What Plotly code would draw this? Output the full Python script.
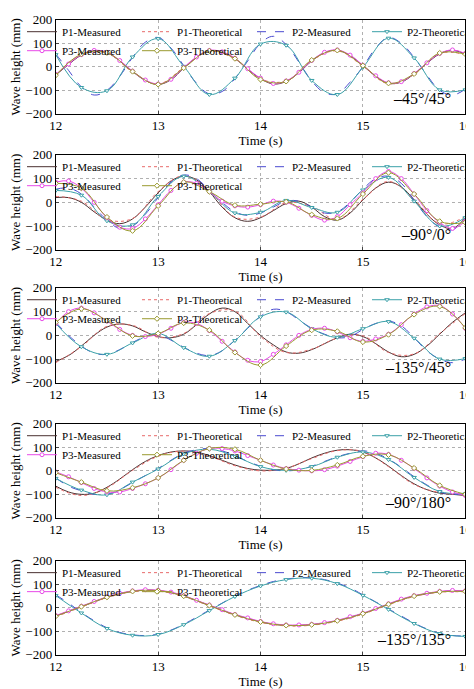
import plotly.graph_objects as go

t_meas = [12 + 0.125 * i for i in range(33)]
t_theo = [12 + 0.25 * i for i in range(17)]

panel_labels = ["\u201345\u00b0/45\u00b0", "\u201390\u00b0/0\u00b0", "\u2013135\u00b0/45\u00b0", "\u201390\u00b0/180\u00b0", "\u2013135\u00b0/135\u00b0"]

# Panel 1 (-45/45)
p1_m_1 = [-35,10,50,68,60,25,-20,-58,-75,-55,-5,40,68,62,35,-10,-50,-73,-62,-25,25,60,70,48,5,-40,-70,-65,-30,15,55,70,55]
p2_m_1 = [55,-15,-85,-120,-100,-40,40,105,125,80,5,-70,-115,-105,-50,25,100,130,95,20,-60,-110,-115,-65,0,80,125,100,40,-35,-100,-120,-95]
p3_m_1 = [-32,12,52,70,62,27,-18,-56,-73,-53,-3,42,70,64,37,-8,-48,-71,-60,-23,27,62,72,50,7,-38,-68,-63,-28,17,57,72,57]
p1_t_1 = [-38,52,58,-22,-73,-3,66,33,-52,-60,27,68,3,-72,-32,57,52]
p2_t_1 = [52,-88,-102,42,120,2,-118,-48,97,92,-58,-118,-2,122,38,-98,-98]
p3_t_1 = [-36,54,60,-20,-75,-5,68,35,-54,-62,29,70,5,-70,-30,59,54]

# Panel 2 (-90/0)
p1_m_2 = [20,20,0,-40,-75,-90,-70,-20,40,90,110,95,45,-20,-65,-80,-65,-35,-5,5,-20,-60,-75,-45,10,60,85,65,10,-50,-95,-110,-65]
p2_m_2 = [55,60,35,-20,-75,-110,-100,-50,20,85,115,100,50,0,-40,-55,-45,-20,5,5,-20,-45,-40,0,55,100,110,80,10,-60,-105,-115,-70]
p3_m_2 = [85,90,60,0,-65,-105,-110,-70,-10,50,85,80,45,5,-15,-20,-10,5,0,-25,-55,-75,-60,-10,40,100,130,100,35,-35,-85,-110,-80]
p1_t_2 = [25,5,-72,-68,45,112,48,-62,-62,-2,-18,-72,12,88,12,-90,-60]
p2_t_2 = [50,30,-78,-95,25,110,45,-45,-42,8,-22,-42,52,105,5,-100,-65]
p3_t_2 = [80,60,-62,-120,-15,85,45,-12,-8,2,-52,-68,35,125,35,-80,-85]

# Panel 3 (-135/45)
p1_m_3 = [-110,-85,-45,0,35,48,40,15,-5,-10,5,45,90,115,100,50,0,-40,-70,-75,-60,-35,-10,5,-5,-35,-70,-90,-80,-45,5,55,95]
p2_m_3 = [55,0,-45,-75,-80,-60,-30,-5,5,-20,-50,-75,-85,-65,-20,30,80,110,100,65,30,5,-10,-5,25,50,60,40,-10,-65,-100,-115,-100]
p3_m_3 = [50,100,115,95,60,25,0,-5,5,30,55,50,20,-25,-70,-105,-110,-80,-40,0,25,30,15,-10,-25,-15,5,45,90,120,125,90,30]
p1_t_3 = [-115,-48,38,42,-8,8,92,102,-5,-72,-58,-12,-2,-72,-78,8,92]
p2_t_3 = [50,-48,-80,-32,8,-52,-88,-22,78,98,28,-8,28,58,-12,-100,-98]
p3_t_3 = [55,112,62,-2,8,52,22,-72,-125,-45,22,17,-28,3,88,122,32]

# Panel 4 (-90/180)
p1_m_4 = [-65,-90,-100,-95,-70,-35,5,40,65,80,85,80,65,45,25,10,3,3,10,30,55,75,88,90,80,55,20,-20,-55,-80,-95,-100,-105]
p2_m_4 = [-30,-65,-85,-100,-100,-80,-50,-20,10,45,75,90,95,85,65,40,20,5,0,5,20,40,60,75,85,75,50,15,-25,-60,-90,-100,-100]
p3_m_4 = [-5,-25,-50,-75,-90,-90,-75,-55,-30,5,45,75,95,95,85,65,45,25,10,3,0,5,20,40,60,75,70,45,10,-30,-65,-90,-105]
p1_t_4 = [-70,-105,-72,2,62,84,62,22,0,12,52,86,82,18,-58,-92,-100]
p2_t_4 = [-32,-82,-102,-48,8,72,92,62,18,2,18,58,80,48,-28,-88,-98]
p3_t_4 = [-8,-48,-85,-72,-30,45,95,92,45,8,2,25,62,68,12,-62,-100]

# Panel 5 (-135/135)
p1_m_5 = [-35,-15,5,25,45,60,70,75,73,65,50,30,10,-10,-30,-45,-60,-70,-75,-75,-72,-65,-55,-40,-25,-5,15,35,50,60,68,72,70]
p2_m_5 = [55,20,-20,-55,-85,-105,-115,-118,-112,-95,-70,-40,-10,20,50,75,95,112,122,128,128,120,105,85,55,25,-5,-35,-65,-90,-108,-118,-120]
p3_m_5 = [-33,-13,7,27,47,62,72,77,75,67,52,32,12,-8,-28,-43,-58,-68,-73,-73,-70,-63,-53,-38,-23,-3,17,37,52,62,70,74,72]
p1_t_5 = [-38,3,43,68,71,48,8,-32,-62,-77,-74,-57,-27,13,48,66,68]
p2_t_5 = [52,-22,-88,-117,-114,-72,-12,48,93,120,126,103,53,-7,-67,-110,-122]
p3_t_5 = [-36,5,45,70,73,50,10,-30,-60,-75,-72,-55,-25,15,50,68,70]

panels = [
    (p1_m_1, p1_t_1, p2_m_1, p2_t_1, p3_m_1, p3_t_1),
    (p1_m_2, p1_t_2, p2_m_2, p2_t_2, p3_m_2, p3_t_2),
    (p1_m_3, p1_t_3, p2_m_3, p2_t_3, p3_m_3, p3_t_3),
    (p1_m_4, p1_t_4, p2_m_4, p2_t_4, p3_m_4, p3_t_4),
    (p1_m_5, p1_t_5, p2_m_5, p2_t_5, p3_m_5, p3_t_5),
]
names = ["P1-Measured", "P1-Theoretical", "P2-Measured", "P2-Theoretical", "P3-Measured", "P3-Theoretical"]
styles = [
    dict(color="#4a3030", dash="solid", marker=None),
    dict(color="#e86a6a", dash="dot", marker=None),
    dict(color="#4a4ad0", dash="dash", marker=None),
    dict(color="#3aa0a8", dash="solid", marker="triangle-down"),
    dict(color="#e84ae8", dash="solid", marker="circle"),
    dict(color="#9a9a30", dash="solid", marker="diamond"),
]

W, H = 474, 689
tops = [5, 143, 279, 418, 558]
bots = [101, 240, 376, 514, 654]
xl, xr = 42, 464
FONT = "Liberation Serif, DejaVu Serif, serif"

fig = go.Figure()
layout = dict(width=W, height=H, margin=dict(l=0, r=0, t=0, b=0),
              paper_bgcolor="white", plot_bgcolor="white",
              font=dict(family=FONT, size=12, color="black"), annotations=[])

for k, series in enumerate(panels):
    ax = "" if k == 0 else str(k + 1)
    leg = "legend" if k == 0 else f"legend{k+1}"
    for j, (vals, nm, st) in enumerate(zip(series, names, styles)):
        xs = t_meas if j % 2 == 0 else t_theo
        mode = "lines+markers" if st["marker"] else "lines"
        tr = go.Scatter(x=xs, y=vals, name=nm, mode=mode, legend=leg,
                        xaxis="x" + ax, yaxis="y" + ax,
                        line=dict(color=st["color"], dash=st["dash"], width=1, shape="spline", smoothing=1.1))
        if st["marker"]:
            tr.marker = dict(symbol=st["marker"], size=4, color="white", line=dict(color=st["color"], width=1))
        fig.add_trace(tr)
    yd = [1 - bots[k] / H, 1 - tops[k] / H]
    tf = dict(family=FONT, size=13, color="black")
    layout["xaxis" + ax] = dict(domain=[xl / W, xr / W], range=[12, 16], anchor="y" + ax,
                               tickvals=[12, 13, 14, 15, 16], showgrid=True, gridcolor="#b0b0b0", griddash="dot",
                               showline=True, mirror=True, linecolor="black", ticks="inside", ticklen=3,
                               tickfont=tf, zeroline=False,
                               title=dict(text="Time (s)", font=tf, standoff=0))
    layout["yaxis" + ax] = dict(domain=yd, range=[-200, 200], anchor="x" + ax,
                               tickvals=[-200, -100, 0, 100, 200], showgrid=True, gridcolor="#b0b0b0", griddash="dot",
                               showline=True, mirror=True, linecolor="black", ticks="inside", ticklen=3,
                               tickfont=tf, zeroline=False,
                               title=dict(text="Wave height (mm)", font=tf, standoff=2))
    layout[leg] = dict(x=(xl + 2) / W, y=yd[1] + 0.004, xanchor="left", yanchor="top",
                       orientation="h", entrywidth=70, entrywidthmode="pixels",
                       bgcolor="rgba(255,255,255,0)", font=dict(family=FONT, size=11, color="black"),
                       tracegroupgap=0, itemwidth=30)
    layout["annotations"].append(dict(text=panel_labels[k], xref="x" + ax + " domain", yref="y" + ax + " domain",
                                      x=0.97, y=0.05, xanchor="right", yanchor="bottom", showarrow=False,
                                      font=dict(family=FONT, size=16, color="black")))

fig.update_layout(**layout)
fig.write_html("out.html")
